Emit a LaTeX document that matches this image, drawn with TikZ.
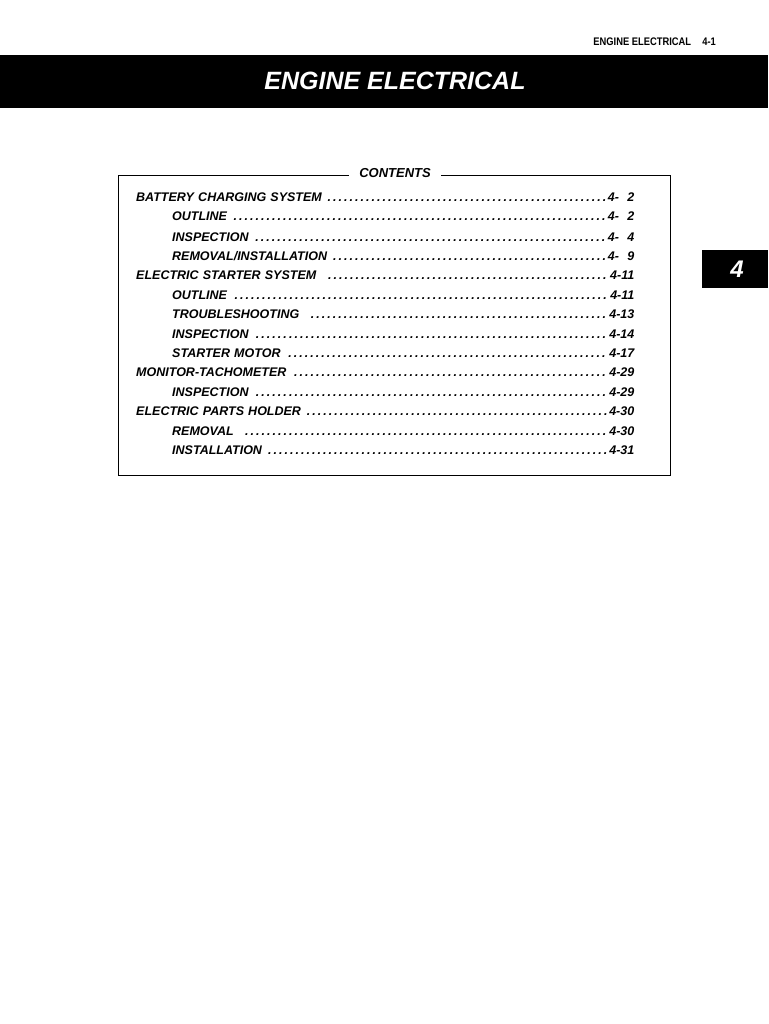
\documentclass[tikz,border=0pt]{standalone}
\usepackage{fontspec}
\setmainfont{Liberation Sans}
\begin{document}
\begin{tikzpicture}[x=1pt,y=-1pt,
  entry/.style={anchor=base west,inner sep=0pt,font=\fontsize{12.5}{14}\selectfont\bfseries\itshape,align=left}]
\useasboundingbox (0,0) rectangle (768,1024);
\fill[white] (0,0) rectangle (768,1024);
\node[anchor=base east,inner sep=0pt,font=\fontsize{11}{12}\selectfont\bfseries,xscale=0.85] (hdr) at (716,46) {ENGINE ELECTRICAL\hspace{1.2em}4-1};
\fill[black] (0,55) rectangle (768,108);
\node[inner sep=0pt,text=white,font=\fontsize{25}{28}\selectfont\bfseries\itshape] (title) at (395,81) {ENGINE ELECTRICAL};
\draw[line width=0.8pt] (118,175) rectangle (670,475);
\node[fill=white,inner xsep=10pt,inner ysep=2pt,font=\fontsize{13}{14}\selectfont\bfseries\itshape] (cont) at (395,173) {CONTENTS};
\fill[black] (702,250) rectangle (768,288);
\node[text=white,font=\fontsize{24}{26}\selectfont\bfseries\itshape] (tab) at (737,269) {4};
\foreach \y/\x/\t/\p in {
 202/136/BATTERY CHARGING SYSTEM/4-\ \ 2,
 221/172/OUTLINE/4-\ \ 2,
 241/172/INSPECTION/4-\ \ 4,
 260/172/REMOVAL\slash INSTALLATION/4-\ \ 9,
 279/136/ELECTRIC STARTER SYSTEM\ /4-11,
 299/172/OUTLINE/4-11,
 318/172/TROUBLESHOOTING\ /4-13,
 338/172/INSPECTION/4-14,
 357/172/STARTER MOTOR/4-17,
 376/136/MONITOR-TACHOMETER/4-29,
 396/172/INSPECTION/4-29,
 415/136/ELECTRIC PARTS HOLDER/4-30,
 435/172/REMOVAL\ /4-30,
 454/172/INSTALLATION/4-31}
 {\pgfmathsetmacro\w{634-\x}
  \node[entry,text width=\w pt] at (\x,\y) {\t\ \dotfill\p};}
\end{tikzpicture}
\end{document}
